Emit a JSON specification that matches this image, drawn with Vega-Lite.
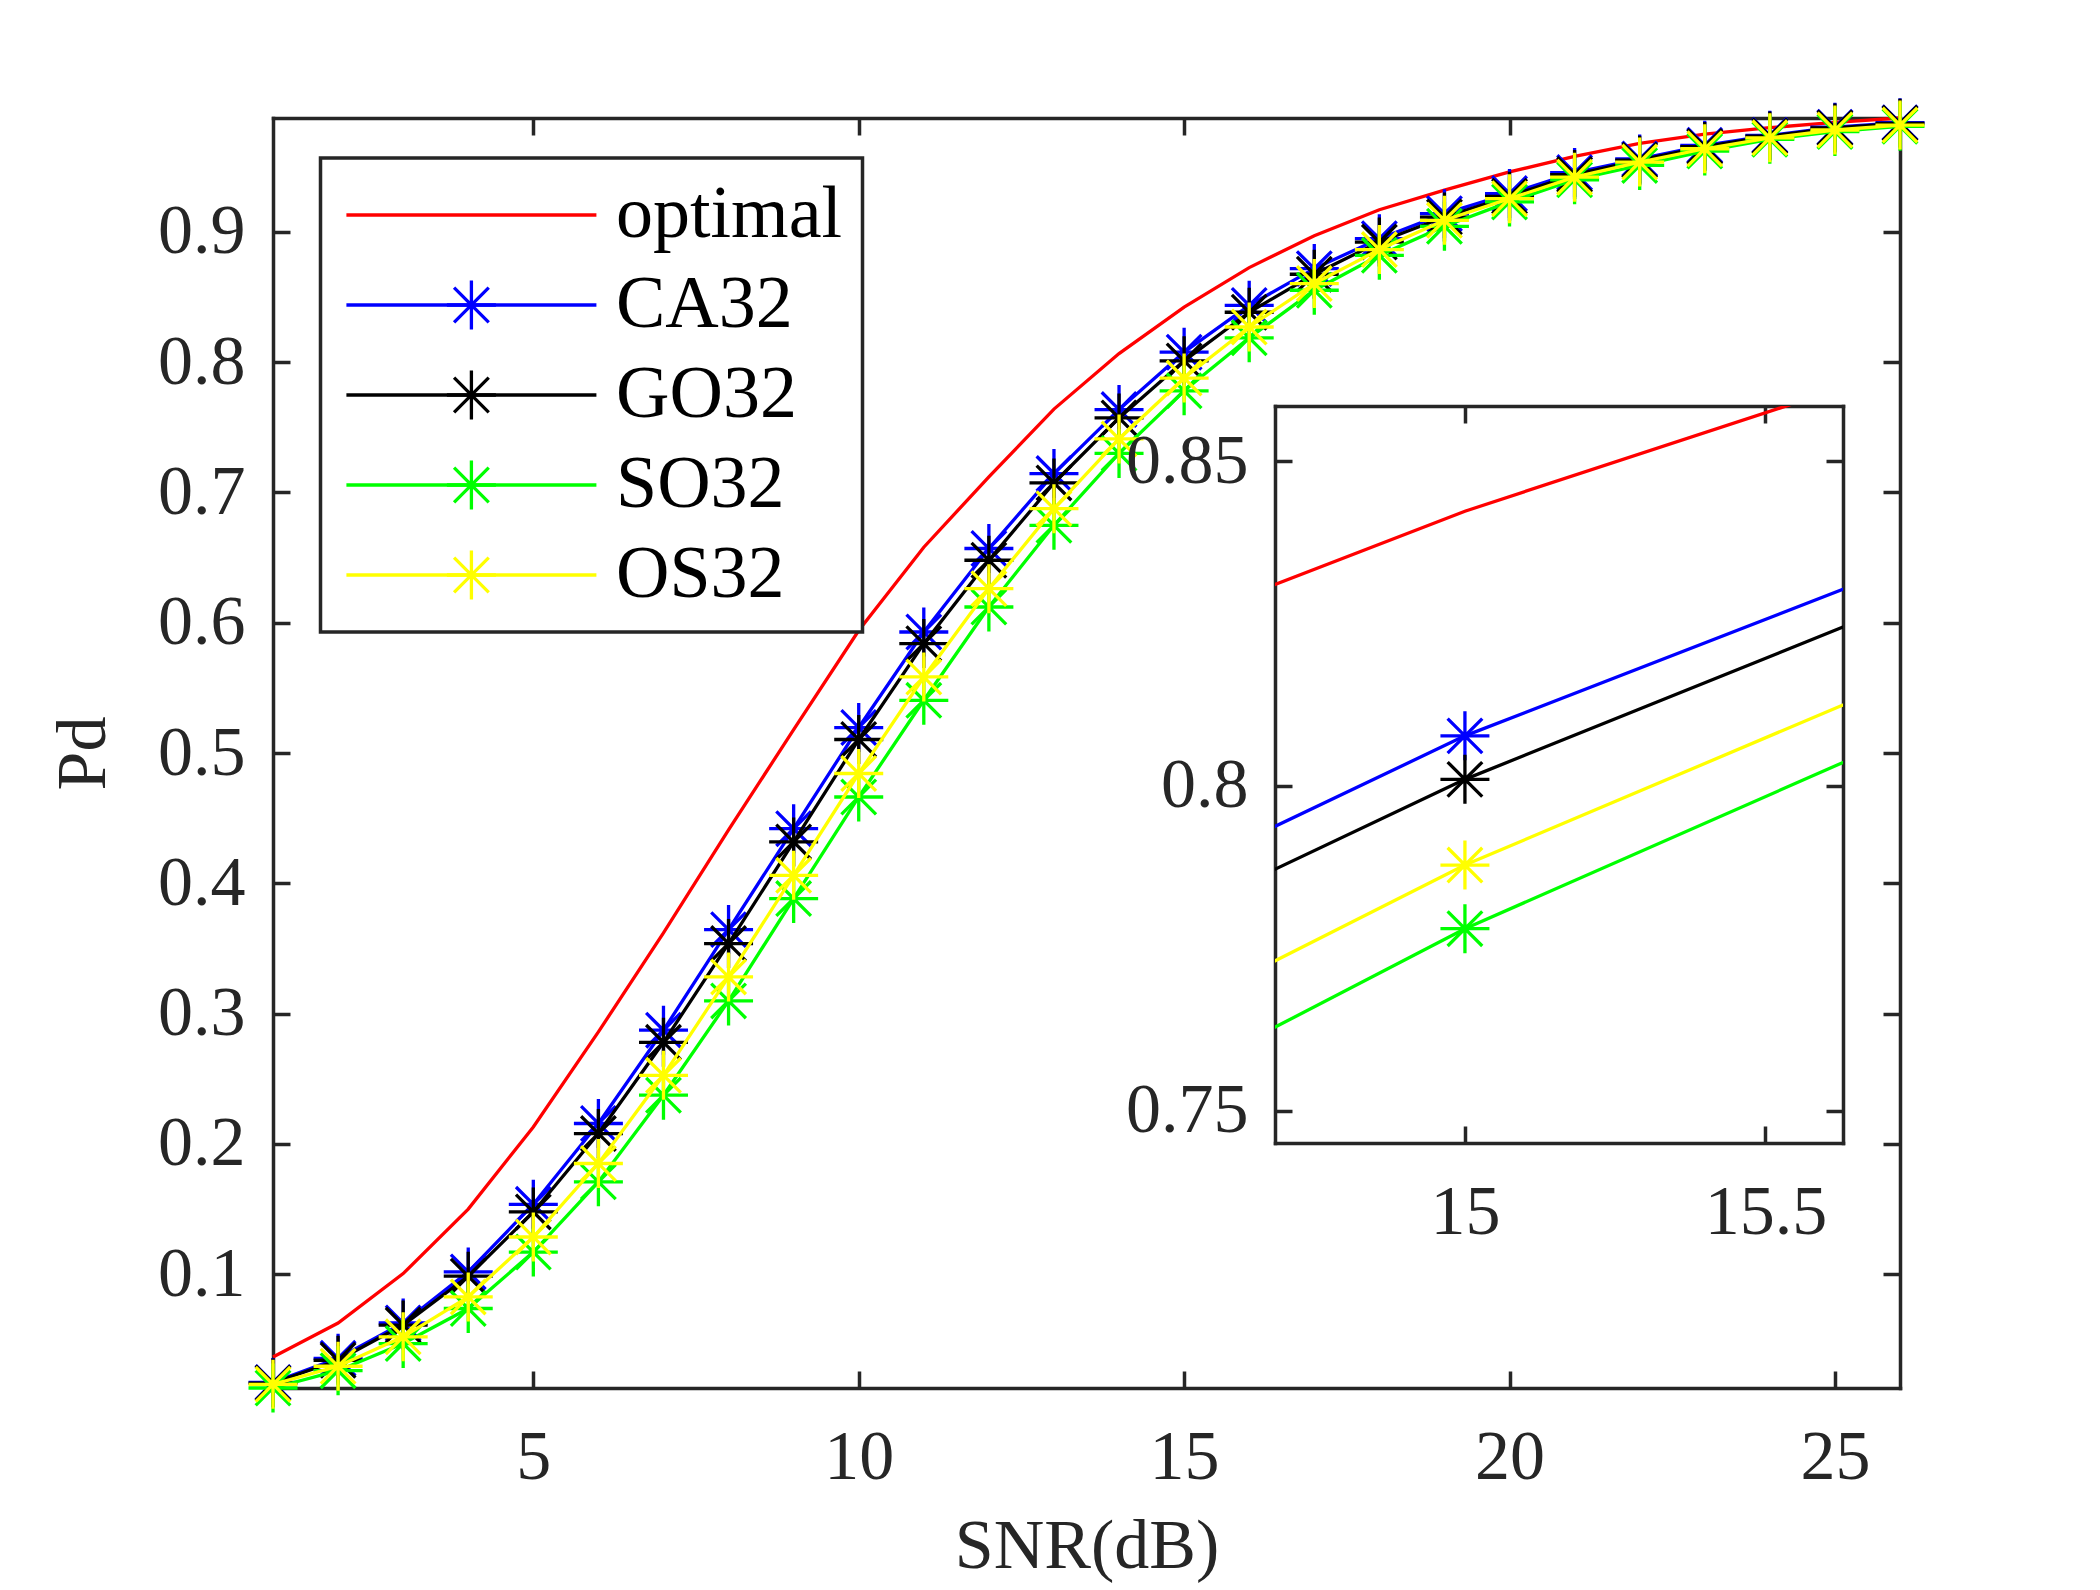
{
"$schema": "https://vega.github.io/schema/vega-lite/v6.json",
"autosize": {"type": "none"},
"padding": {"left": 273, "top": 118, "right": 1827, "bottom": 1472},
"background": "#ffffff",
"config": {
  "view": {"stroke": null},
  "legend": {"strokeWidth": 3.5},
  "axis": {"domainColor": "#262626", "domainWidth": 3.5, "domainCap": "square", "tickColor": "#262626", "tickWidth": 3.5, "labelColor": "#262626", "labelFont": "Liberation Serif", "labelFontSize": 70, "titleFont": "Liberation Serif", "titleFontSize": 70, "titleFontWeight": "normal", "titleColor": "#262626", "grid": false, "labelFlush": false, "labelOverlap": false}
},
"data": {"values": [
{"x":1,"s":"optimal","pd":0.0365},{"x":2,"s":"optimal","pd":0.0626},{"x":3,"s":"optimal","pd":0.1005},{"x":4,"s":"optimal","pd":0.150},{"x":5,"s":"optimal","pd":0.213},{"x":6,"s":"optimal","pd":0.286},{"x":7,"s":"optimal","pd":0.362},{"x":8,"s":"optimal","pd":0.441},{"x":9,"s":"optimal","pd":0.518},{"x":10,"s":"optimal","pd":0.594},{"x":11,"s":"optimal","pd":0.658},{"x":12,"s":"optimal","pd":0.712},{"x":13,"s":"optimal","pd":0.764},{"x":14,"s":"optimal","pd":0.8066},{"x":15,"s":"optimal","pd":0.8423},{"x":16,"s":"optimal","pd":0.8726},{"x":17,"s":"optimal","pd":0.897},{"x":18,"s":"optimal","pd":0.917},{"x":19,"s":"optimal","pd":0.932},{"x":20,"s":"optimal","pd":0.946},{"x":21,"s":"optimal","pd":0.958},{"x":22,"s":"optimal","pd":0.968},{"x":23,"s":"optimal","pd":0.975},{"x":24,"s":"optimal","pd":0.980},{"x":25,"s":"optimal","pd":0.984},{"x":26,"s":"optimal","pd":0.9874},
{"x":1,"s":"CA32","pd":0.017},{"x":2,"s":"CA32","pd":0.0355},{"x":3,"s":"CA32","pd":0.0626},{"x":4,"s":"CA32","pd":0.1018},{"x":5,"s":"CA32","pd":0.1537},{"x":6,"s":"CA32","pd":0.2157},{"x":7,"s":"CA32","pd":0.2873},{"x":8,"s":"CA32","pd":0.3645},{"x":9,"s":"CA32","pd":0.442},{"x":10,"s":"CA32","pd":0.5196},{"x":11,"s":"CA32","pd":0.5929},{"x":12,"s":"CA32","pd":0.657},{"x":13,"s":"CA32","pd":0.7145},{"x":14,"s":"CA32","pd":0.7636},{"x":15,"s":"CA32","pd":0.8077},{"x":16,"s":"CA32","pd":0.8436},{"x":17,"s":"CA32","pd":0.8718},{"x":18,"s":"CA32","pd":0.8948},{"x":19,"s":"CA32","pd":0.914},{"x":20,"s":"CA32","pd":0.9294},{"x":21,"s":"CA32","pd":0.9455},{"x":22,"s":"CA32","pd":0.956},{"x":23,"s":"CA32","pd":0.9664},{"x":24,"s":"CA32","pd":0.9741},{"x":25,"s":"CA32","pd":0.9803},{"x":26,"s":"CA32","pd":0.9838},
{"x":1,"s":"GO32","pd":0.0165},{"x":2,"s":"GO32","pd":0.034},{"x":3,"s":"GO32","pd":0.061},{"x":4,"s":"GO32","pd":0.0985},{"x":5,"s":"GO32","pd":0.1478},{"x":6,"s":"GO32","pd":0.208},{"x":7,"s":"GO32","pd":0.278},{"x":8,"s":"GO32","pd":0.3538},{"x":9,"s":"GO32","pd":0.4318},{"x":10,"s":"GO32","pd":0.5104},{"x":11,"s":"GO32","pd":0.584},{"x":12,"s":"GO32","pd":0.648},{"x":13,"s":"GO32","pd":0.7073},{"x":14,"s":"GO32","pd":0.7572},{"x":15,"s":"GO32","pd":0.801},{"x":16,"s":"GO32","pd":0.8383},{"x":17,"s":"GO32","pd":0.8675},{"x":18,"s":"GO32","pd":0.8922},{"x":19,"s":"GO32","pd":0.9114},{"x":20,"s":"GO32","pd":0.9273},{"x":21,"s":"GO32","pd":0.944},{"x":22,"s":"GO32","pd":0.955},{"x":23,"s":"GO32","pd":0.9655},{"x":24,"s":"GO32","pd":0.9735},{"x":25,"s":"GO32","pd":0.9798},{"x":26,"s":"GO32","pd":0.9833},
{"x":1,"s":"SO32","pd":0.0127},{"x":2,"s":"SO32","pd":0.026},{"x":3,"s":"SO32","pd":0.0468},{"x":4,"s":"SO32","pd":0.0737},{"x":5,"s":"SO32","pd":0.117},{"x":6,"s":"SO32","pd":0.1709},{"x":7,"s":"SO32","pd":0.2374},{"x":8,"s":"SO32","pd":0.3098},{"x":9,"s":"SO32","pd":0.3883},{"x":10,"s":"SO32","pd":0.4663},{"x":11,"s":"SO32","pd":0.5405},{"x":12,"s":"SO32","pd":0.6121},{"x":13,"s":"SO32","pd":0.6748},{"x":14,"s":"SO32","pd":0.730},{"x":15,"s":"SO32","pd":0.778},{"x":16,"s":"SO32","pd":0.8187},{"x":17,"s":"SO32","pd":0.8552},{"x":18,"s":"SO32","pd":0.882},{"x":19,"s":"SO32","pd":0.9043},{"x":20,"s":"SO32","pd":0.923},{"x":21,"s":"SO32","pd":0.940},{"x":22,"s":"SO32","pd":0.951},{"x":23,"s":"SO32","pd":0.962},{"x":24,"s":"SO32","pd":0.971},{"x":25,"s":"SO32","pd":0.977},{"x":26,"s":"SO32","pd":0.981},
{"x":1,"s":"OS32","pd":0.0155},{"x":2,"s":"OS32","pd":0.0294},{"x":3,"s":"OS32","pd":0.052},{"x":4,"s":"OS32","pd":0.0826},{"x":5,"s":"OS32","pd":0.1286},{"x":6,"s":"OS32","pd":0.185},{"x":7,"s":"OS32","pd":0.2527},{"x":8,"s":"OS32","pd":0.3282},{"x":9,"s":"OS32","pd":0.4062},{"x":10,"s":"OS32","pd":0.4843},{"x":11,"s":"OS32","pd":0.5584},{"x":12,"s":"OS32","pd":0.6262},{"x":13,"s":"OS32","pd":0.6876},{"x":14,"s":"OS32","pd":0.7411},{"x":15,"s":"OS32","pd":0.7878},{"x":16,"s":"OS32","pd":0.827},{"x":17,"s":"OS32","pd":0.8603},{"x":18,"s":"OS32","pd":0.8864},{"x":19,"s":"OS32","pd":0.9089},{"x":20,"s":"OS32","pd":0.9255},{"x":21,"s":"OS32","pd":0.942},{"x":22,"s":"OS32","pd":0.9536},{"x":23,"s":"OS32","pd":0.9638},{"x":24,"s":"OS32","pd":0.9722},{"x":25,"s":"OS32","pd":0.9782},{"x":26,"s":"OS32","pd":0.982}
]},
"spacing": 0,
"bounds": "flush",
"hconcat": [
{
  "width": 1002, "height": 1270,
  "resolve": {"axis": {"x": "independent", "y": "independent"}},
  "layer": [
    {"transform": [{"filter": "datum.s === 'optimal'"}],
     "mark": {"type": "line", "strokeWidth": 3.3},
     "encoding": {
       "x": {"field": "x", "type": "quantitative", "scale": {"domain": [1, 26], "range": [0, 1627], "nice": false, "zero": false},
             "axis": {"orient": "bottom", "values": [5, 10, 15, 20, 25], "format": "~g", "title": "SNR(dB)", "titleX": 813.5, "tickSize": -17, "labelPadding": 52, "titlePadding": 20}},
       "y": {"field": "pd", "type": "quantitative", "scale": {"domain": [0.0127, 0.9874], "nice": false, "zero": false},
             "axis": {"orient": "left", "values": [0.1, 0.2, 0.3, 0.4, 0.5, 0.6, 0.7, 0.8, 0.9], "format": "~g", "title": "Pd", "tickSize": -17, "labelPadding": 45, "titlePadding": 38}},
       "color": {"field": "s", "type": "nominal", "scale": {"domain": ["optimal", "CA32", "GO32", "SO32", "OS32"], "range": ["#ff0000", "#0000ff", "#000000", "#00ff00", "#ffff00"]},
         "legend": {"title": null, "orient": "none", "legendX": 47.5, "legendY": 40, "padding": 20, "fillColor": "#ffffff", "strokeColor": "#262626", "symbolType": "M-1.269,0L8.935,0", "symbolSize": 2401, "symbolStrokeWidth": 3.3, "symbolOpacity": 1, "labelFont": "Liberation Serif", "labelFontSize": 74, "labelColor": "#000000", "labelOffset": 201.5, "rowPadding": 16, "labelLimit": 0, "zindex": 5}}
     }},
    {"transform": [{"filter": "datum.s === 'CA32'"}],
     "mark": {"type": "line", "strokeWidth": 3.3},
     "encoding": {
       "x": {"field": "x", "type": "quantitative", "scale": {"domain": [1, 26], "range": [0, 1627], "nice": false, "zero": false},
             "axis": {"orient": "top", "values": [5, 10, 15, 20, 25], "labels": false, "title": null, "tickSize": -17}},
       "y": {"field": "pd", "type": "quantitative", "scale": {"domain": [0.0127, 0.9874], "nice": false, "zero": false},
             "axis": {"orient": "right", "offset": 625, "values": [0.1, 0.2, 0.3, 0.4, 0.5, 0.6, 0.7, 0.8, 0.9], "labels": false, "title": null, "tickSize": -17}},
       "color": {"field": "s", "type": "nominal", "scale": {"domain": ["optimal", "CA32", "GO32", "SO32", "OS32"], "range": ["#ff0000", "#0000ff", "#000000", "#00ff00", "#ffff00"]},
         "legend": {"title": null, "orient": "none", "legendX": 47.5, "legendY": 40, "padding": 20, "fillColor": "#ffffff", "strokeColor": "#262626", "symbolType": "M-1.269,0L8.935,0", "symbolSize": 2401, "symbolStrokeWidth": 3.3, "symbolOpacity": 1, "labelFont": "Liberation Serif", "labelFontSize": 74, "labelColor": "#000000", "labelOffset": 201.5, "rowPadding": 16, "labelLimit": 0, "zindex": 5}}
     }},
    {"transform": [{"filter": "datum.s === 'CA32'"}],
     "mark": {"type": "point", "shape": "M0,-1L0,1M-1,0L1,0M-0.707,-0.707L0.707,0.707M-0.707,0.707L0.707,-0.707", "filled": false, "size": 2401, "strokeWidth": 3.3, "opacity": 1},
     "encoding": {
       "x": {"field": "x", "type": "quantitative", "scale": {"domain": [1, 26], "range": [0, 1627], "nice": false, "zero": false}, "axis": null},
       "y": {"field": "pd", "type": "quantitative", "scale": {"domain": [0.0127, 0.9874], "nice": false, "zero": false}, "axis": null},
       "stroke": {"field": "s", "type": "nominal", "scale": {"domain": ["CA32", "GO32", "SO32", "OS32"], "range": ["#0000ff", "#000000", "#00ff00", "#ffff00"]},
         "legend": {"title": null, "orient": "none", "legendX": 47.5, "legendY": 130, "padding": 20, "symbolType": "M3.833,-1L3.833,1M2.833,0L4.833,0M3.126,-0.707L4.54,0.707M3.126,0.707L4.54,-0.707", "symbolSize": 2401, "symbolStrokeWidth": 3.3, "symbolOpacity": 1, "symbolFillColor": "transparent", "labelFont": "Liberation Serif", "labelFontSize": 74, "labelOpacity": 0, "labelOffset": 201.5, "rowPadding": 16, "labelLimit": 0, "zindex": 6}}
     }},
    {"transform": [{"filter": "datum.s === 'GO32'"}],
     "mark": {"type": "line", "strokeWidth": 3.3},
     "encoding": {
       "x": {"field": "x", "type": "quantitative", "scale": {"domain": [1, 26], "range": [0, 1627], "nice": false, "zero": false}, "axis": null},
       "y": {"field": "pd", "type": "quantitative", "scale": {"domain": [0.0127, 0.9874], "nice": false, "zero": false}, "axis": null},
       "color": {"field": "s", "type": "nominal", "scale": {"domain": ["optimal", "CA32", "GO32", "SO32", "OS32"], "range": ["#ff0000", "#0000ff", "#000000", "#00ff00", "#ffff00"]},
         "legend": {"title": null, "orient": "none", "legendX": 47.5, "legendY": 40, "padding": 20, "fillColor": "#ffffff", "strokeColor": "#262626", "symbolType": "M-1.269,0L8.935,0", "symbolSize": 2401, "symbolStrokeWidth": 3.3, "symbolOpacity": 1, "labelFont": "Liberation Serif", "labelFontSize": 74, "labelColor": "#000000", "labelOffset": 201.5, "rowPadding": 16, "labelLimit": 0, "zindex": 5}}
     }},
    {"transform": [{"filter": "datum.s === 'GO32'"}],
     "mark": {"type": "point", "shape": "M0,-1L0,1M-1,0L1,0M-0.707,-0.707L0.707,0.707M-0.707,0.707L0.707,-0.707", "filled": false, "size": 2401, "strokeWidth": 3.3, "opacity": 1},
     "encoding": {
       "x": {"field": "x", "type": "quantitative", "scale": {"domain": [1, 26], "range": [0, 1627], "nice": false, "zero": false}, "axis": null},
       "y": {"field": "pd", "type": "quantitative", "scale": {"domain": [0.0127, 0.9874], "nice": false, "zero": false}, "axis": null},
       "stroke": {"field": "s", "type": "nominal", "scale": {"domain": ["CA32", "GO32", "SO32", "OS32"], "range": ["#0000ff", "#000000", "#00ff00", "#ffff00"]},
         "legend": {"title": null, "orient": "none", "legendX": 47.5, "legendY": 130, "padding": 20, "symbolType": "M3.833,-1L3.833,1M2.833,0L4.833,0M3.126,-0.707L4.54,0.707M3.126,0.707L4.54,-0.707", "symbolSize": 2401, "symbolStrokeWidth": 3.3, "symbolOpacity": 1, "symbolFillColor": "transparent", "labelFont": "Liberation Serif", "labelFontSize": 74, "labelOpacity": 0, "labelOffset": 201.5, "rowPadding": 16, "labelLimit": 0, "zindex": 6}}
     }},
    {"transform": [{"filter": "datum.s === 'SO32'"}],
     "mark": {"type": "line", "strokeWidth": 3.3},
     "encoding": {
       "x": {"field": "x", "type": "quantitative", "scale": {"domain": [1, 26], "range": [0, 1627], "nice": false, "zero": false}, "axis": null},
       "y": {"field": "pd", "type": "quantitative", "scale": {"domain": [0.0127, 0.9874], "nice": false, "zero": false}, "axis": null},
       "color": {"field": "s", "type": "nominal", "scale": {"domain": ["optimal", "CA32", "GO32", "SO32", "OS32"], "range": ["#ff0000", "#0000ff", "#000000", "#00ff00", "#ffff00"]},
         "legend": {"title": null, "orient": "none", "legendX": 47.5, "legendY": 40, "padding": 20, "fillColor": "#ffffff", "strokeColor": "#262626", "symbolType": "M-1.269,0L8.935,0", "symbolSize": 2401, "symbolStrokeWidth": 3.3, "symbolOpacity": 1, "labelFont": "Liberation Serif", "labelFontSize": 74, "labelColor": "#000000", "labelOffset": 201.5, "rowPadding": 16, "labelLimit": 0, "zindex": 5}}
     }},
    {"transform": [{"filter": "datum.s === 'SO32'"}],
     "mark": {"type": "point", "shape": "M0,-1L0,1M-1,0L1,0M-0.707,-0.707L0.707,0.707M-0.707,0.707L0.707,-0.707", "filled": false, "size": 2401, "strokeWidth": 3.3, "opacity": 1},
     "encoding": {
       "x": {"field": "x", "type": "quantitative", "scale": {"domain": [1, 26], "range": [0, 1627], "nice": false, "zero": false}, "axis": null},
       "y": {"field": "pd", "type": "quantitative", "scale": {"domain": [0.0127, 0.9874], "nice": false, "zero": false}, "axis": null},
       "stroke": {"field": "s", "type": "nominal", "scale": {"domain": ["CA32", "GO32", "SO32", "OS32"], "range": ["#0000ff", "#000000", "#00ff00", "#ffff00"]},
         "legend": {"title": null, "orient": "none", "legendX": 47.5, "legendY": 130, "padding": 20, "symbolType": "M3.833,-1L3.833,1M2.833,0L4.833,0M3.126,-0.707L4.54,0.707M3.126,0.707L4.54,-0.707", "symbolSize": 2401, "symbolStrokeWidth": 3.3, "symbolOpacity": 1, "symbolFillColor": "transparent", "labelFont": "Liberation Serif", "labelFontSize": 74, "labelOpacity": 0, "labelOffset": 201.5, "rowPadding": 16, "labelLimit": 0, "zindex": 6}}
     }},
    {"transform": [{"filter": "datum.s === 'OS32'"}],
     "mark": {"type": "line", "strokeWidth": 3.3},
     "encoding": {
       "x": {"field": "x", "type": "quantitative", "scale": {"domain": [1, 26], "range": [0, 1627], "nice": false, "zero": false}, "axis": null},
       "y": {"field": "pd", "type": "quantitative", "scale": {"domain": [0.0127, 0.9874], "nice": false, "zero": false}, "axis": null},
       "color": {"field": "s", "type": "nominal", "scale": {"domain": ["optimal", "CA32", "GO32", "SO32", "OS32"], "range": ["#ff0000", "#0000ff", "#000000", "#00ff00", "#ffff00"]},
         "legend": {"title": null, "orient": "none", "legendX": 47.5, "legendY": 40, "padding": 20, "fillColor": "#ffffff", "strokeColor": "#262626", "symbolType": "M-1.269,0L8.935,0", "symbolSize": 2401, "symbolStrokeWidth": 3.3, "symbolOpacity": 1, "labelFont": "Liberation Serif", "labelFontSize": 74, "labelColor": "#000000", "labelOffset": 201.5, "rowPadding": 16, "labelLimit": 0, "zindex": 5}}
     }},
    {"transform": [{"filter": "datum.s === 'OS32'"}],
     "mark": {"type": "point", "shape": "M0,-1L0,1M-1,0L1,0M-0.707,-0.707L0.707,0.707M-0.707,0.707L0.707,-0.707", "filled": false, "size": 2401, "strokeWidth": 3.3, "opacity": 1},
     "encoding": {
       "x": {"field": "x", "type": "quantitative", "scale": {"domain": [1, 26], "range": [0, 1627], "nice": false, "zero": false}, "axis": null},
       "y": {"field": "pd", "type": "quantitative", "scale": {"domain": [0.0127, 0.9874], "nice": false, "zero": false}, "axis": null},
       "stroke": {"field": "s", "type": "nominal", "scale": {"domain": ["CA32", "GO32", "SO32", "OS32"], "range": ["#0000ff", "#000000", "#00ff00", "#ffff00"]},
         "legend": {"title": null, "orient": "none", "legendX": 47.5, "legendY": 130, "padding": 20, "symbolType": "M3.833,-1L3.833,1M2.833,0L4.833,0M3.126,-0.707L4.54,0.707M3.126,0.707L4.54,-0.707", "symbolSize": 2401, "symbolStrokeWidth": 3.3, "symbolOpacity": 1, "symbolFillColor": "transparent", "labelFont": "Liberation Serif", "labelFontSize": 74, "labelOpacity": 0, "labelOffset": 201.5, "rowPadding": 16, "labelLimit": 0, "zindex": 6}}
     }}
  ]
},
{
  "spacing": 287,
  "bounds": "flush",
  "vconcat": [
    {"width": 568, "height": 1, "data": {"values": []}, "mark": "point"},
    {
      "width": 568, "height": 737,
      "transform": [{"filter": "datum.x >= 14 && datum.x <= 16"}],
      "resolve": {"axis": {"x": "independent", "y": "independent"}},
      "layer": [
        {"transform": [{"filter": "datum.s === 'optimal'"}],
         "mark": {"type": "line", "color": "#ff0000", "strokeWidth": 3.3, "clip": true},
         "encoding": {
           "x": {"field": "x", "type": "quantitative", "scale": {"domain": [14.684, 15.629], "nice": false, "zero": false},
                 "axis": {"orient": "bottom", "values": [15, 15.5], "format": "~g", "title": null, "tickSize": -17, "labelPadding": 52}},
           "y": {"field": "pd", "type": "quantitative", "scale": {"domain": [0.745, 0.8585], "nice": false, "zero": false},
                 "axis": {"orient": "left", "values": [0.75, 0.8, 0.85], "format": "~g", "title": null, "tickSize": -17, "labelPadding": 44}}
         }},
        {"transform": [{"filter": "datum.s === 'CA32'"}],
         "mark": {"type": "line", "color": "#0000ff", "strokeWidth": 3.3, "clip": true},
         "encoding": {
           "x": {"field": "x", "type": "quantitative", "scale": {"domain": [14.684, 15.629], "nice": false, "zero": false},
                 "axis": {"orient": "top", "values": [15, 15.5], "labels": false, "title": null, "tickSize": -17}},
           "y": {"field": "pd", "type": "quantitative", "scale": {"domain": [0.745, 0.8585], "nice": false, "zero": false},
                 "axis": {"orient": "right", "values": [0.75, 0.8, 0.85], "labels": false, "title": null, "tickSize": -17}}
         }},
        {"transform": [{"filter": "datum.s === 'CA32'"}],
         "mark": {"type": "point", "shape": "M0,-1L0,1M-1,0L1,0M-0.707,-0.707L0.707,0.707M-0.707,0.707L0.707,-0.707", "filled": false, "size": 2401, "strokeWidth": 3.3, "opacity": 1, "color": "#0000ff", "clip": true},
         "encoding": {
           "x": {"field": "x", "type": "quantitative", "scale": {"domain": [14.684, 15.629], "nice": false, "zero": false}, "axis": null},
           "y": {"field": "pd", "type": "quantitative", "scale": {"domain": [0.745, 0.8585], "nice": false, "zero": false}, "axis": null}
         }},
        {"transform": [{"filter": "datum.s === 'GO32'"}],
         "mark": {"type": "line", "color": "#000000", "strokeWidth": 3.3, "clip": true},
         "encoding": {
           "x": {"field": "x", "type": "quantitative", "scale": {"domain": [14.684, 15.629], "nice": false, "zero": false}, "axis": null},
           "y": {"field": "pd", "type": "quantitative", "scale": {"domain": [0.745, 0.8585], "nice": false, "zero": false}, "axis": null}
         }},
        {"transform": [{"filter": "datum.s === 'GO32'"}],
         "mark": {"type": "point", "shape": "M0,-1L0,1M-1,0L1,0M-0.707,-0.707L0.707,0.707M-0.707,0.707L0.707,-0.707", "filled": false, "size": 2401, "strokeWidth": 3.3, "opacity": 1, "color": "#000000", "clip": true},
         "encoding": {
           "x": {"field": "x", "type": "quantitative", "scale": {"domain": [14.684, 15.629], "nice": false, "zero": false}, "axis": null},
           "y": {"field": "pd", "type": "quantitative", "scale": {"domain": [0.745, 0.8585], "nice": false, "zero": false}, "axis": null}
         }},
        {"transform": [{"filter": "datum.s === 'SO32'"}],
         "mark": {"type": "line", "color": "#00ff00", "strokeWidth": 3.3, "clip": true},
         "encoding": {
           "x": {"field": "x", "type": "quantitative", "scale": {"domain": [14.684, 15.629], "nice": false, "zero": false}, "axis": null},
           "y": {"field": "pd", "type": "quantitative", "scale": {"domain": [0.745, 0.8585], "nice": false, "zero": false}, "axis": null}
         }},
        {"transform": [{"filter": "datum.s === 'SO32'"}],
         "mark": {"type": "point", "shape": "M0,-1L0,1M-1,0L1,0M-0.707,-0.707L0.707,0.707M-0.707,0.707L0.707,-0.707", "filled": false, "size": 2401, "strokeWidth": 3.3, "opacity": 1, "color": "#00ff00", "clip": true},
         "encoding": {
           "x": {"field": "x", "type": "quantitative", "scale": {"domain": [14.684, 15.629], "nice": false, "zero": false}, "axis": null},
           "y": {"field": "pd", "type": "quantitative", "scale": {"domain": [0.745, 0.8585], "nice": false, "zero": false}, "axis": null}
         }},
        {"transform": [{"filter": "datum.s === 'OS32'"}],
         "mark": {"type": "line", "color": "#ffff00", "strokeWidth": 3.3, "clip": true},
         "encoding": {
           "x": {"field": "x", "type": "quantitative", "scale": {"domain": [14.684, 15.629], "nice": false, "zero": false}, "axis": null},
           "y": {"field": "pd", "type": "quantitative", "scale": {"domain": [0.745, 0.8585], "nice": false, "zero": false}, "axis": null}
         }},
        {"transform": [{"filter": "datum.s === 'OS32'"}],
         "mark": {"type": "point", "shape": "M0,-1L0,1M-1,0L1,0M-0.707,-0.707L0.707,0.707M-0.707,0.707L0.707,-0.707", "filled": false, "size": 2401, "strokeWidth": 3.3, "opacity": 1, "color": "#ffff00", "clip": true},
         "encoding": {
           "x": {"field": "x", "type": "quantitative", "scale": {"domain": [14.684, 15.629], "nice": false, "zero": false}, "axis": null},
           "y": {"field": "pd", "type": "quantitative", "scale": {"domain": [0.745, 0.8585], "nice": false, "zero": false}, "axis": null}
         }}
      ]
    }
  ]
}
]
}
